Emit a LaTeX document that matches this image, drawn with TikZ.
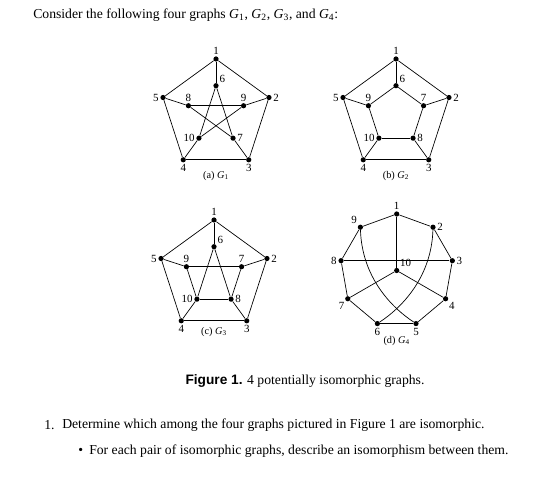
\documentclass[tikz,border=0pt]{standalone}
\usepackage{fontspec}
\setmainfont{Liberation Serif}
\setsansfont{Liberation Sans}
\usetikzlibrary{positioning}
\tikzset{
  vtx/.style={circle, fill=black, inner sep=0pt, minimum size=3.8pt},
  lbl/.style={font=\fontsize{8}{9}\selectfont, inner sep=0.9pt},
  edge/.style={draw=black, line width=0.5pt},
  gcap/.style={font=\fontsize{7.5}{8}\selectfont, inner sep=0pt},
  txt/.style={font=\fontsize{10}{12}\selectfont, inner sep=0pt}
}
\newcommand{\gname}[1]{\textit{G}\textsubscript{#1}}

\begin{document}
\begin{tikzpicture}[x=0.73pt,y=-0.73pt]
  \useasboundingbox (0,0) rectangle (550,479);
  \node[txt, anchor=west] (intro) at (33,15)
    {Consider the following four graphs \gname{1}, \gname{2}, \gname{3}, and \gname{4}:};

  % G1
  \node[vtx, label={[lbl]above:1}] (a1) at (216,59) {};
  \node[vtx, label={[lbl]right:2}] (a2) at (268.97,97.5) {};
  \node[vtx, label={[lbl]below:3}] (a3) at (248.74,159.8) {};
  \node[vtx, label={[lbl]below:4}] (a4) at (183.26,159.8) {};
  \node[vtx, label={[lbl]left:5}] (a5) at (163.03,97.5) {};
  \node[vtx, label={[lbl]above right:6}] (a6) at (216,85.7) {};
  \node[vtx, label={[lbl]right:7}] (a7) at (233.05,138.16) {};
  \node[vtx, label={[lbl]above:8}] (a8) at (188.42,105.74) {};
  \node[vtx, label={[lbl]above:9}] (a9) at (243.58,105.74) {};
  \node[vtx, label={[lbl]left:10}] (a10) at (198.95,138.16) {};
  \foreach \u/\v in {1/2,2/3,3/4,4/5,5/1,1/6,2/9,3/7,4/10,5/8,6/10,6/7,8/9,8/7,9/10}
    \draw[edge] (a\u) -- (a\v);
  \node[gcap] (capa) at (216,176) {(a) \gname{1}};

  % G2
  \node[vtx, label={[lbl]above:1}] (b1) at (396,59) {};
  \node[vtx, label={[lbl]right:2}] (b2) at (448.97,97.5) {};
  \node[vtx, label={[lbl]below:3}] (b3) at (428.74,159.8) {};
  \node[vtx, label={[lbl]below:4}] (b4) at (363.26,159.8) {};
  \node[vtx, label={[lbl]left:5}] (b5) at (343.03,97.5) {};
  \node[vtx, label={[lbl]above right:6}] (b6) at (396,85.7) {};
  \node[vtx, label={[lbl]above:7}] (b7) at (423.58,105.74) {};
  \node[vtx, label={[lbl]right:8}] (b8) at (413.05,138.16) {};
  \node[vtx, label={[lbl]above:9}] (b9) at (368.42,105.74) {};
  \node[vtx, label={[lbl]left:10}] (b10) at (378.95,138.16) {};
  \foreach \u/\v in {1/2,2/3,3/4,4/5,5/1,1/6,2/7,3/8,4/10,5/9,6/7,7/8,8/10,10/9,9/6}
    \draw[edge] (b\u) -- (b\v);
  \node[gcap] (capb) at (396,176) {(b) \gname{2}};

  % G3
  \node[vtx, label={[lbl]above:1}] (c1) at (214,220) {};
  \node[vtx, label={[lbl]right:2}] (c2) at (266.97,258.5) {};
  \node[vtx, label={[lbl]below:3}] (c3) at (246.74,320.8) {};
  \node[vtx, label={[lbl]below:4}] (c4) at (181.26,320.8) {};
  \node[vtx, label={[lbl]left:5}] (c5) at (161.03,258.5) {};
  \node[vtx, label={[lbl]above right:6}] (c6) at (214,246.7) {};
  \node[vtx, label={[lbl]above:7}] (c7) at (241.58,266.74) {};
  \node[vtx, label={[lbl]right:8}] (c8) at (231.05,299.16) {};
  \node[vtx, label={[lbl]above:9}] (c9) at (186.42,266.74) {};
  \node[vtx, label={[lbl]left:10}] (c10) at (196.95,299.16) {};
  \foreach \u/\v in {1/2,2/3,3/4,4/5,5/1,1/6,2/7,3/8,4/10,5/9,9/7,9/10,10/8,7/8,6/10,6/8}
    \draw[edge] (c\u) -- (c\v);
  \node[gcap] (capc) at (214,332) {(c) \gname{3}};

  % G4
  \node[vtx, label={[lbl]above:1}] (d1) at (396.7,214) {};
  \node[vtx, label={[lbl]right:2}] (d2) at (433.02,227.22) {};
  \node[vtx, label={[lbl]right:3}] (d3) at (452.34,260.69) {};
  \node[vtx, label={[lbl]below right:4}] (d4) at (445.63,298.75) {};
  \node[vtx, label={[lbl]below:5}] (d5) at (416.02,323.59) {};
  \node[vtx, label={[lbl]below:6}] (d6) at (377.38,323.59) {};
  \node[vtx, label={[lbl]below left:7}] (d7) at (347.77,298.75) {};
  \node[vtx, label={[lbl]left:8}] (d8) at (341.06,260.69) {};
  \node[vtx, label={[lbl]above left:9}] (d9) at (360.38,227.22) {};
  \node[vtx, label={[lbl]above right:10}] (d10) at (396.7,270.5) {};
  \foreach \u/\v in {1/2,2/3,3/4,4/5,5/6,6/7,7/8,8/9,9/1,1/10,10/7,10/4,8/3}
    \draw[edge] (d\u) -- (d\v);
  \draw[edge] (d9) .. controls (362,276.7) and (390.8,307) .. (d5);
  \draw[edge] (d2) .. controls (431.4,276.7) and (402.6,307) .. (d6);
  \node[gcap] (capd) at (396.7,341) {(d) \gname{4}};

  \node[txt] (figcap) at (305,381)
    {\textsf{\textbf{Figure 1.}} 4 potentially isomorphic graphs.};
  \node[txt, anchor=west] (num) at (44,425) {1.};
  \node[txt, anchor=west] (q1) at (62,425)
    {Determine which among the four graphs pictured in Figure 1 are isomorphic.};
  \node[txt, anchor=west] (dot) at (78,451) {\textbullet};
  \node[txt, anchor=west] (q2) at (89,451)
    {For each pair of isomorphic graphs, describe an isomorphism between them.};
\end{tikzpicture}
\end{document}
